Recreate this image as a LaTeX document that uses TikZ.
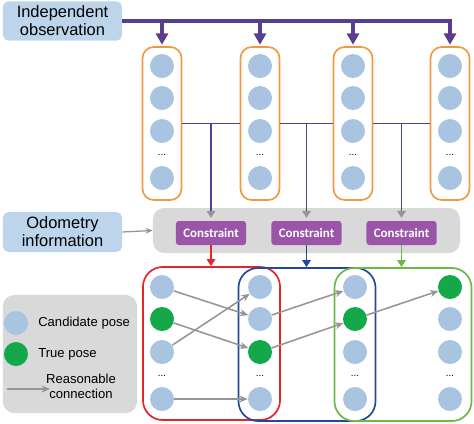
\documentclass[tikz,border=0pt]{standalone}
\usepackage{fontspec}
\setmainfont{Liberation Sans}
\newfontfamily\consfont{Carlito}
\usetikzlibrary{arrows.meta}
\usetikzlibrary{calc}
\definecolor{boxblue}{HTML}{BCD5EB}
\definecolor{poseblue}{HTML}{A8C4E0}
\definecolor{posegreen}{HTML}{14A84B}
\definecolor{obspurple}{HTML}{5A3E8E}
\definecolor{conspurple}{HTML}{9B55A8}
\definecolor{panelgray}{HTML}{D9D9D9}
\definecolor{linkgray}{HTML}{959595}
\definecolor{colorange}{HTML}{EE9A45}
\definecolor{winred}{HTML}{E3262B}
\definecolor{winblue}{HTML}{25489A}
\definecolor{wingreen}{HTML}{6BB847}
\tikzset{pose/.style={circle,fill=poseblue,minimum size=0.6cm,inner sep=0pt},
 truepose/.style={pose,fill=posegreen},
 infobox/.style={rounded corners=4pt,fill=boxblue,minimum width=2.975cm,align=center,
   font=\fontsize{11.7}{12.8}\selectfont},
 legtext/.style={inner sep=0pt,font=\fontsize{9.3}{10.5}\selectfont},
 panel/.style={fill=panelgray,rounded corners=8pt},
 obscol/.style={draw=colorange,line width=1.2pt,rounded corners=8pt,minimum width=0.975cm,minimum height=3.825cm},
 winbox/.style={line width=1.2pt,rounded corners=14pt,minimum width=3.425cm,minimum height=3.825cm},
 consbox/.style={fill=conspurple,text=white,rounded corners=2pt,minimum width=1.75cm,minimum height=0.6cm,
   font=\consfont\bfseries\fontsize{9.2}{11}\selectfont},
 link/.style={draw=linkgray,line width=1.1pt,-{Stealth[length=6pt,width=5pt]}},
 obsline/.style={draw=obspurple,line width=2.5pt,-{Triangle[length=8pt,width=8.5pt]}},
 midline/.style={draw=obspurple,line width=1.4pt},
 dots/.style={inner sep=0pt,font=\fontsize{7}{8}\selectfont},
 }

\begin{document}
\begin{tikzpicture}[x=0.025cm,y=-0.025cm]
        \useasboundingbox (0,0) rectangle (474,423);
        \node[infobox,minimum height=0.95cm] (obs) at (62.5,21) {Independent\\observation};
        \node[infobox,minimum height=1cm] (odo) at (62.5,232) {Odometry\\information};
        \foreach \x [count=\i] in {162,260,353,450} {
            \node[obscol] (top\i) at (\x,123.5) {};
            \foreach \y [count=\j] in {66,98,131,178} {
                \node[pose] (t\i-\j) at (\x,\y) {};
            }
            \node[dots] (tdots\i) at (\x,155) {...};
        }
        \draw[obsline] (obs.east) -| ([yshift=1pt]top4.north);
        \foreach \i in {1,2,3} {
            \draw[obsline] (obs.east -| top\i.north) -- ([yshift=1pt]top\i.north);
        }
        \node[panel,minimum width=7.675cm,minimum height=1.125cm] (odobox) at (306.5,230.5) {};
        \draw[draw=linkgray,line width=0.9pt,-{Stealth[length=5pt,width=4pt]}] (odo.east) -- (odobox.west);
        \foreach \i/\k in {1/2,2/3,3/4} {
            \coordinate (mid\i) at ($(top\i.east)!0.5!(top\k.west)$);
            \draw[midline] (top\i.east) -- (top\k.west);
            \node[consbox] (cons\i) at (mid\i |- 0,233) {Constraint};
            \draw[midline,-{Triangle[length=5pt,width=6pt,color=linkgray]}]
                (mid\i) -- ([yshift=2pt]cons\i.north);
        }
        \node[winbox,draw=winred] (win1) at (211.5,343.5) {};
        \node[winbox,draw=winblue] (win2) at (307,344.5) {};
        \node[winbox,draw=wingreen] (win3) at (403,344.5) {};
        \foreach \i/\c in {1/winred,2/winblue,3/wingreen} {
            \draw[\c,line width=1.2pt,-{Triangle[length=5pt,width=6pt]}] (cons\i.south) -- (cons\i.south |- win\i.north);
        }
        \foreach \x/\t [count=\i] in {162/2,260/3,355/2,450/1} {
            \foreach \y [count=\j] in {287,319,352,399} {
                \ifnum\j=\t
                    \node[truepose] (b\i-\j) at (\x,\y) {};
                \else
                    \node[pose] (b\i-\j) at (\x,\y) {};
                \fi
            }
            \node[dots] (bdots\i) at (\x,376) {...};
        }
        \foreach \a/\b in {1-1/2-2,1-2/2-3,1-3/2-1,1-4/2-4,2-2/3-1,2-3/3-2,3-2/4-1} {
            \draw[link] (b\a) -- (b\b);
        }
        \node[panel,minimum width=3.35cm,minimum height=2.95cm] (legend) at (70,354) {};
        \node[pose] (lcand) at (16,323) {};
        \node[legtext,anchor=west] (lcandtext) at (38,323) {Candidate pose};
        \node[truepose] (ltrue) at (16,354) {};
        \node[legtext,anchor=west] (ltruetext) at (38,354) {True pose};
        \coordinate (lstart) at (7,389);
        \coordinate (lend) at (50,389);
        \draw[link] (lstart) -- (lend);
        \node[legtext,align=center] (llinktext) at (81,386) {Reasonable\\connection};
    \end{tikzpicture}
\end{document}
